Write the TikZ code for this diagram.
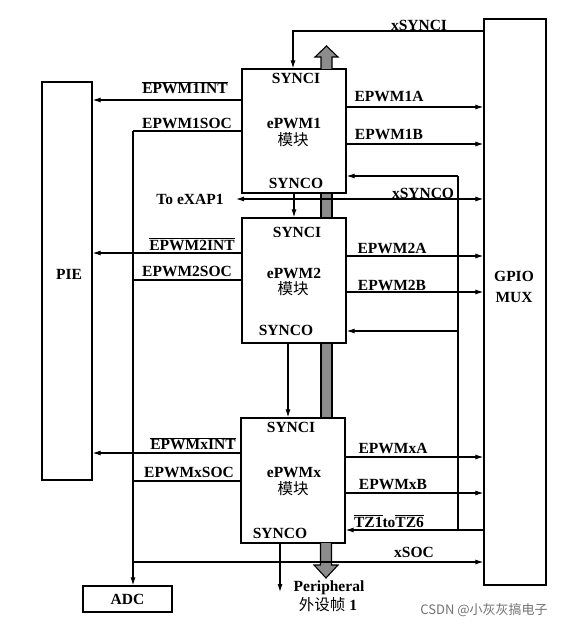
\documentclass[tikz,border=0pt]{standalone}
\usepackage{fontspec}
\setmainfont{Liberation Serif}
\newfontfamily\cjk{Noto Sans CJK SC}
\usetikzlibrary{arrows.meta}
\newcommand{\ovl}[1]{$\overline{\mbox{#1}}$}
\newcommand{\zh}[1]{{\cjk\mdseries #1}}
\begin{document}
\begin{tikzpicture}[x=1pt,y=-1pt,
  every node/.style={font=\fontsize{15.5}{18}\selectfont\bfseries},
  box/.style={draw, line width=1.2pt, inner sep=0pt},
  ln/.style={line width=1.1pt},
  arr/.style={ln, -{Latex[length=8pt,width=5pt]}},
  lbl/.style={inner sep=0pt},
  bus/.style={draw, line width=1.1pt, fill=black!45}]
\useasboundingbox[fill=white] (0,0) rectangle (572,628);

% boxes
\node[box, minimum width=104pt, minimum height=124pt] (e1) at (294,131) {};
\node[box, minimum width=104pt, minimum height=125pt] (e2) at (294,280.5) {};
\node[box, minimum width=104pt, minimum height=125pt] (ex) at (293,480.5) {};
\node[box, minimum width=50pt, minimum height=398pt] (pie) at (67,281) {};
\node[box, minimum width=62pt, minimum height=566pt] (gpio) at (515,302) {};
\node[box, minimum width=89pt, minimum height=26pt] (adc) at (127.5,599) {ADC};

% box texts
\node[lbl] (t1a) at (296,78) {SYNCI};
\node[lbl] (t1b) at (294,124) {ePWM1};
\node[lbl] (t1c) at (293,140) {\zh{模块}};
\node[lbl] (t1d) at (296,183) {SYNCO};
\node[lbl] (t2a) at (297,232) {SYNCI};
\node[lbl] (t2b) at (294,273) {ePWM2};
\node[lbl] (t2c) at (293,289) {\zh{模块}};
\node[lbl] (t2d) at (286,330) {SYNCO};
\node[lbl] (t3a) at (291,427) {SYNCI};
\node[lbl] (t3b) at (294,473) {ePWMx};
\node[lbl] (t3c) at (293,489) {\zh{模块}};
\node[lbl] (t3d) at (280,533) {SYNCO};
\node[lbl] (tpie) at (69,274) {PIE};
\node[lbl] (tg1) at (514,276) {GPIO};
\node[lbl] (tg2) at (514,297) {MUX};

% gray bus
\draw[bus] (321,69) -- (321,57) -- (315,57) -- (326.5,46) -- (338,57) -- (332,57) -- (332,69);
\draw[bus] (321,193) rectangle (332,218);
\draw[bus] (321,343) rectangle (332,418);
\draw[bus] (320.5,543) -- (320.5,565) -- (314,565) -- (326,578) -- (338,565) -- (331.5,565) -- (331.5,543);

% coordinates
\coordinate (cs) at (293,31);
\coordinate (h1int) at (0,100);
\coordinate (h1soc) at (133,131);
\coordinate (h2int) at (0,253);
\coordinate (h2soc) at (0,280);
\coordinate (hxint) at (0,453);
\coordinate (hxsoc) at (0,481);
\coordinate (hsoc) at (0,562);
\coordinate (j1) at (294,199);
\coordinate (texa) at (236,199);
\coordinate (s2) at (288,0);
\coordinate (sx) at (280,592);
\coordinate (tz) at (458,530);
\coordinate (tzt) at (458,176);
\coordinate (tzm) at (458,331);
\coordinate (a1) at (0,107);
\coordinate (b1) at (0,144);
\coordinate (a2) at (0,256);
\coordinate (b2) at (0,292);
\coordinate (ax) at (0,457);
\coordinate (bx) at (0,493);

% xSYNCI
\draw[arr] (gpio.west |- cs) -- (cs) -- (cs |- e1.north);
% interrupts
\draw[arr] (e1.west |- h1int) -- (pie.east |- h1int);
\draw[arr] (e2.west |- h2int) -- (pie.east |- h2int);
\draw[arr] (ex.west |- hxint) -- (pie.east |- hxint);
% SOC bus
\draw[ln] (e1.west |- h1soc) -- (h1soc);
\draw[arr] (h1soc) -- (h1soc |- adc.north);
\draw[ln] (e2.west |- h2soc) -- (h1soc |- h2soc);
\draw[ln] (ex.west |- hxsoc) -- (h1soc |- hxsoc);
\draw[arr] (h1soc |- hsoc) -- (gpio.west |- hsoc);
% PWM outputs
\draw[arr] (e1.east |- a1) -- (gpio.west |- a1);
\draw[arr] (e1.east |- b1) -- (gpio.west |- b1);
\draw[arr] (e2.east |- a2) -- (gpio.west |- a2);
\draw[arr] (e2.east |- b2) -- (gpio.west |- b2);
\draw[arr] (ex.east |- ax) -- (gpio.west |- ax);
\draw[arr] (ex.east |- bx) -- (gpio.west |- bx);
% trip zones
\draw[arr] (gpio.west |- tz) -- (ex.east |- tz);
\draw[ln] (tz) -- (tzt);
\draw[arr] (tzt) -- (e1.east |- tzt);
\draw[arr] (tzm) -- (e2.east |- tzm);
% sync chain
\draw[ln] (j1 |- e1.south) -- (j1);
\fill (j1) circle (1.8);
\draw[arr] (j1) -- (j1 |- e2.north);
\draw[arr] (j1) -- (texa);
\draw[arr] (j1) -- (gpio.west |- j1);
\draw[arr] (s2 |- e2.south) -- (s2 |- ex.north);
\draw[arr] (sx |- ex.south) -- (sx);

% labels
\node[lbl] (l1) at (419,25) {xSYNCI};
\node[lbl] (l2) at (185,88) {\ovl{EPWM1INT}};
\node[lbl] (l3) at (187,123) {EPWM1SOC};
\node[lbl] (l4) at (190,199) {To eXAP1};
\node[lbl] (l5) at (192,244) {\ovl{EPWM2INT}};
\node[lbl] (l6) at (187,271) {EPWM2SOC};
\node[lbl] (l7) at (193,444) {\ovl{EPWMxINT}};
\node[lbl] (l8) at (189,472) {EPWMxSOC};
\node[lbl] (l9) at (389,97) {EPWM1A};
\node[lbl] (l10) at (389,135) {EPWM1B};
\node[lbl] (l11) at (423,193) {xSYNCO};
\node[lbl] (l12) at (392,248) {EPWM2A};
\node[lbl] (l13) at (392,285) {EPWM2B};
\node[lbl] (l14) at (393,448) {EPWMxA};
\node[lbl] (l15) at (393,485) {EPWMxB};
\node[lbl] (l16) at (389,521) {\ovl{TZ1}to\ovl{TZ6}};
\node[lbl] (l17) at (414,552) {xSOC};
\node[lbl] (l18) at (329,588) {Peripheral};
\node[lbl] (l19) at (328,605) {\zh{外设帧} 1};
\node[lbl, text=black!55, font=\cjk\fontsize{13}{15}\selectfont] (wm) at (484,610) {CSDN @小灰灰搞电子};
\end{tikzpicture}
\end{document}
